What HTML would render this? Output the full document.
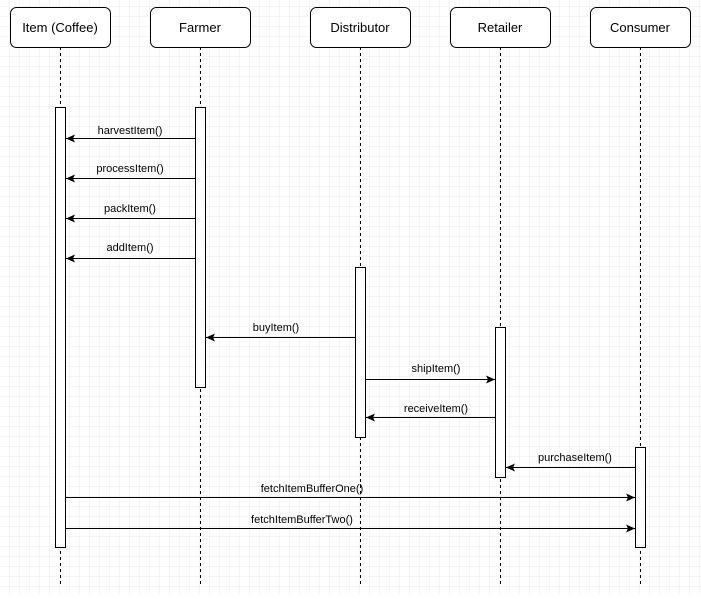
<!DOCTYPE html>
<html><head><style>body{margin:0}svg text{font-family:"Liberation Sans",Arial,sans-serif}</style></head><body>
<svg width="701" height="594" xmlns="http://www.w3.org/2000/svg">
<defs>
<pattern id="mi" width="10" height="10" patternUnits="userSpaceOnUse" x="0" y="7"><path d="M10 0V10M0 10H10" stroke="#ebebeb" stroke-width="1" fill="none"/></pattern>
<pattern id="ma" width="40" height="40" patternUnits="userSpaceOnUse" x="-10" y="7"><path d="M40.5 0V40M0 40.5H40" stroke="#dcdcdc" stroke-width="1" fill="none"/></pattern>
<marker id="a" markerWidth="10" markerHeight="10" refX="9" refY="5" orient="auto" markerUnits="userSpaceOnUse"><path d="M0 1L9 5L0 9L2 5Z" fill="#000"/></marker>
</defs>
<rect width="701" height="594" fill="#fff"/>
<rect width="701" height="594" fill="url(#mi)"/>
<rect width="701" height="594" fill="url(#ma)"/>
<g stroke="#000" stroke-dasharray="3,3" stroke-width="1">
<path d="M60.5 47V585M200.5 47V585M360.5 47V585M500.5 47V585M640.5 47V585"/>
</g>
<g fill="#fff" stroke="#000" stroke-width="1">
<rect x="10.5" y="7.5" width="100" height="40" rx="6"/>
<rect x="150.5" y="7.5" width="100" height="40" rx="6"/>
<rect x="310.5" y="7.5" width="100" height="40" rx="6"/>
<rect x="450.5" y="7.5" width="100" height="40" rx="6"/>
<rect x="590.5" y="7.5" width="100" height="40" rx="6"/>
<rect x="55.5" y="107.5" width="10" height="440"/>
<rect x="195.5" y="107.5" width="10" height="280"/>
<rect x="355.5" y="267.5" width="10" height="170"/>
<rect x="495.5" y="327.5" width="10" height="150"/>
<rect x="635.5" y="447.5" width="10" height="100"/>
</g>
<g font-size="13" text-anchor="middle" fill="#000">
<text x="60" y="32">Item (Coffee)</text>
<text x="200" y="32">Farmer</text>
<text x="360" y="32">Distributor</text>
<text x="500" y="32">Retailer</text>
<text x="640" y="32">Consumer</text>
</g>
<g stroke="#000" stroke-width="1" marker-end="url(#a)">
<path d="M195 138.5H66"/>
<path d="M195 178.5H66"/>
<path d="M195 218.5H66"/>
<path d="M195 258.5H66"/>
<path d="M355 337.5H206"/>
<path d="M366 379.5H495"/>
<path d="M495 417.5H366"/>
<path d="M635 467.5H506"/>
<path d="M66 497.5H635"/>
<path d="M66 528.5H635"/>
</g>
<g font-size="11" text-anchor="middle" fill="#000">
<text x="130" y="134">harvestItem()</text>
<text x="130" y="172">processItem()</text>
<text x="130" y="212">packItem()</text>
<text x="130" y="251">addItem()</text>
<text x="276" y="331">buyItem()</text>
<text x="436" y="372">shipItem()</text>
<text x="436" y="412">receiveItem()</text>
<text x="575" y="461">purchaseItem()</text>
<text x="312" y="492">fetchItemBufferOne()</text>
<text x="302" y="523">fetchItemBufferTwo()</text>
</g>
</svg>
</body></html>
